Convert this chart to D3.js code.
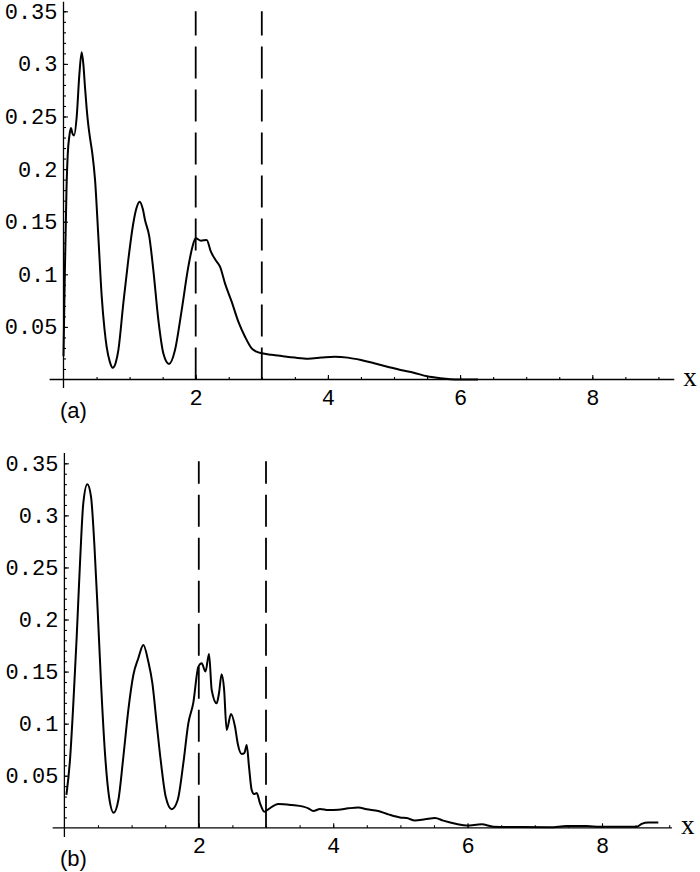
<!DOCTYPE html>
<html>
<head>
<meta charset="utf-8">
<script src="https://cdn.jsdelivr.net/npm/d3@7"></script>
<style>
  html, body { margin: 0; padding: 0; background: #fff; }
  svg { display: block; }
</style>
</head>
<body>
<script>
// curve (a): [x, value]
const seriesA = [
  [0, 0.022], [0.02, 0.1], [0.045, 0.18], [0.065, 0.215], [0.09, 0.232], [0.113, 0.239],
  [0.135, 0.234], [0.16, 0.232], [0.2, 0.25], [0.24, 0.29], [0.275, 0.311], [0.3, 0.3],
  [0.325, 0.278], [0.35, 0.258], [0.375, 0.242], [0.405, 0.228], [0.436, 0.215], [0.477, 0.19],
  [0.527, 0.136], [0.578, 0.079], [0.62, 0.048], [0.653, 0.031], [0.7, 0.017], [0.744, 0.0112],
  [0.79, 0.016], [0.83, 0.028], [0.905, 0.0724], [0.98, 0.1136], [1.056, 0.1485], [1.1, 0.162],
  [1.152, 0.169], [1.2, 0.162], [1.233, 0.1516], [1.298, 0.1358], [1.359, 0.104], [1.435, 0.0566],
  [1.51, 0.0249], [1.596, 0.0147], [1.687, 0.028], [1.788, 0.066], [1.888, 0.107], [1.95, 0.126],
  [2.0, 0.1342], [2.08, 0.132], [2.166, 0.1327], [2.23, 0.1215], [2.3, 0.1136], [2.368, 0.1072],
  [2.443, 0.0914], [2.544, 0.074], [2.645, 0.055], [2.746, 0.0407], [2.847, 0.0296], [2.92, 0.0265],
  [3.0, 0.0249], [3.15, 0.0235], [3.3, 0.0223], [3.5, 0.0208], [3.7, 0.0198], [3.9, 0.0208],
  [4.1, 0.0217], [4.3, 0.0208], [4.5, 0.0185], [4.7, 0.0154], [4.9, 0.0122], [5.1, 0.009],
  [5.3, 0.0065], [5.5, 0.003], [5.7, 0.0012], [5.85, 0.0003], [6.0, 0], [6.27, 0]
];

// curve (b): [x, value]
const seriesB = [
  [0.03, 0.0315], [0.083, 0.065], [0.133, 0.1195], [0.183, 0.1835], [0.232, 0.254], [0.281, 0.3116],
  [0.341, 0.33], [0.396, 0.318], [0.445, 0.273], [0.495, 0.209], [0.545, 0.139], [0.604, 0.0715],
  [0.664, 0.03], [0.733, 0.0145], [0.803, 0.0267], [0.877, 0.068], [0.951, 0.113], [1.026, 0.1467],
  [1.1, 0.1628], [1.175, 0.1755], [1.249, 0.1594], [1.309, 0.139], [1.373, 0.1003], [1.438, 0.062],
  [1.507, 0.03], [1.596, 0.0178], [1.686, 0.0267], [1.77, 0.062], [1.844, 0.1003], [1.918, 0.12],
  [1.993, 0.1545], [2.043, 0.158], [2.1, 0.15], [2.152, 0.167], [2.192, 0.1323], [2.266, 0.1195],
  [2.3, 0.129], [2.34, 0.1474], [2.375, 0.134], [2.415, 0.094], [2.479, 0.1093], [2.539, 0.097],
  [2.579, 0.081], [2.638, 0.0709], [2.677, 0.0716], [2.713, 0.0795], [2.747, 0.0587], [2.787, 0.0363],
  [2.821, 0.0325], [2.862, 0.0333], [2.911, 0.0235], [2.975, 0.0155], [3.034, 0.0178], [3.183, 0.0229],
  [3.382, 0.0219], [3.555, 0.0203], [3.63, 0.0187], [3.704, 0.0161], [3.804, 0.0181], [3.927, 0.0171],
  [4.076, 0.0174], [4.225, 0.0187], [4.374, 0.0195], [4.498, 0.0178], [4.671, 0.0161], [4.82, 0.0129],
  [4.994, 0.0099], [5.094, 0.0094], [5.217, 0.007], [5.366, 0.0081], [5.515, 0.0094], [5.638, 0.0069],
  [5.837, 0.0037], [5.986, 0.0021], [6.21, 0.0033], [6.382, 0.0011], [6.73, 0.0007], [7.226, 0.0005],
  [7.475, 0.0017], [7.77, 0.0017], [7.97, 0.001], [8.517, 0.001], [8.59, 0.0037], [8.69, 0.005],
  [8.838, 0.005]
];

const xMajorTicks = [2, 4, 6, 8];
const xMinorTicks = d3.range(0.5, 9.01, 0.5);
const yMajorTicks = [0.05, 0.1, 0.15, 0.2, 0.25, 0.3, 0.35];
const yTickLabels = ["0.05", "0.1", "0.15", "0.2", "0.25", "0.3", "0.35"];
const yMinorTicks = d3.range(0.01, 0.355, 0.01);
const markers = [2, 3];
const panelLabels = ["(a)", "(b)"];

// layout of the two panels (pixel origin and units)
const panels = [
  { data: seriesA, label: panelLabels[0], ox: 63.5, kx: 66.1, oy: 379.5, ky: 1052, xMin: -0.21, xMax: 9.24, yMin: -0.008, yMax: 0.359, markTop: 0.35, labelY: 418 },
  { data: seriesB, label: panelLabels[1], ox: 64.4, kx: 67.2, oy: 827.8, ky: 1041.4, xMin: -0.175, xMax: 9.04, yMin: -0.0088, yMax: 0.36, markTop: 0.352, labelY: 866 }
];

const svg = d3.select("body").append("svg")
  .attr("width", 700).attr("height", 872);

panels.forEach(p => {
  const x = d3.scaleLinear().domain([0, 9]).range([p.ox, p.ox + 9 * p.kx]);
  const y = d3.scaleLinear().domain([0, 0.35]).range([p.oy, p.oy - 0.35 * p.ky]);
  const g = svg.append("g");

  // axis lines
  g.append("line")
    .attr("x1", x(p.xMin)).attr("x2", x(p.xMax))
    .attr("y1", y(0)).attr("y2", y(0))
    .attr("stroke", "#000").attr("stroke-width", 1.3);
  g.append("line")
    .attr("x1", x(0)).attr("x2", x(0))
    .attr("y1", y(p.yMin)).attr("y2", y(p.yMax))
    .attr("stroke", "#000").attr("stroke-width", 1.3);

  // ticks (inward) with labels outside
  const xMinor = g.append("g").attr("transform", `translate(0,${y(0)})`)
    .call(d3.axisBottom(x).tickValues(xMinorTicks).tickSizeInner(-2.5).tickSizeOuter(0).tickFormat(""));
  const xMajor = g.append("g").attr("transform", `translate(0,${y(0)})`)
    .call(d3.axisBottom(x).tickValues(xMajorTicks).tickSizeInner(-4.5).tickSizeOuter(0).tickPadding(9.5).tickFormat(d3.format("d")));
  const yMinor = g.append("g").attr("transform", `translate(${x(0)},0)`)
    .call(d3.axisLeft(y).tickValues(yMinorTicks).tickSizeInner(-2.5).tickSizeOuter(0).tickFormat(""));
  const yMajor = g.append("g").attr("transform", `translate(${x(0)},0)`)
    .call(d3.axisLeft(y).tickValues(yMajorTicks).tickSizeInner(-4.5).tickSizeOuter(0).tickPadding(6)
      .tickFormat((d, i) => yTickLabels[i]));

  [xMinor, xMajor, yMinor, yMajor].forEach(a => {
    a.select(".domain").remove();
    a.selectAll(".tick line").attr("stroke", "#000").attr("stroke-width", 1.1);
    a.selectAll("text")
      .attr("fill", "#000")
      .style("font-family", "'Liberation Mono', 'Courier New', monospace")
      .style("font-size", "22px");
  });

  // axis name
  g.append("text")
    .attr("x", x(p.xMax) + 9).attr("y", y(0) + 6.5)
    .style("font-family", "'Liberation Serif', 'Times New Roman', serif")
    .style("font-size", "27px")
    .text("x");

  // dashed markers
  g.selectAll(".marker").data(markers).join("line")
    .attr("class", "marker")
    .attr("x1", d => x(d)).attr("x2", d => x(d))
    .attr("y1", y(0)).attr("y2", y(p.markTop))
    .attr("stroke", "#000").attr("stroke-width", 1.8)
    .attr("stroke-dasharray", "32,11");

  // curve
  const line = d3.line()
    .x(d => x(d[0])).y(d => y(d[1]))
    .curve(d3.curveMonotoneX);
  g.append("path")
    .datum(p.data)
    .attr("d", line)
    .attr("fill", "none")
    .attr("stroke", "#000")
    .attr("stroke-width", 2)
    .attr("stroke-linejoin", "round");

  // panel label
  g.append("text")
    .attr("x", 73.5).attr("y", p.labelY)
    .attr("text-anchor", "middle")
    .style("font-family", "'Liberation Sans', Arial, sans-serif")
    .style("font-size", "22px")
    .text(p.label);
});
</script>
</body>
</html>
